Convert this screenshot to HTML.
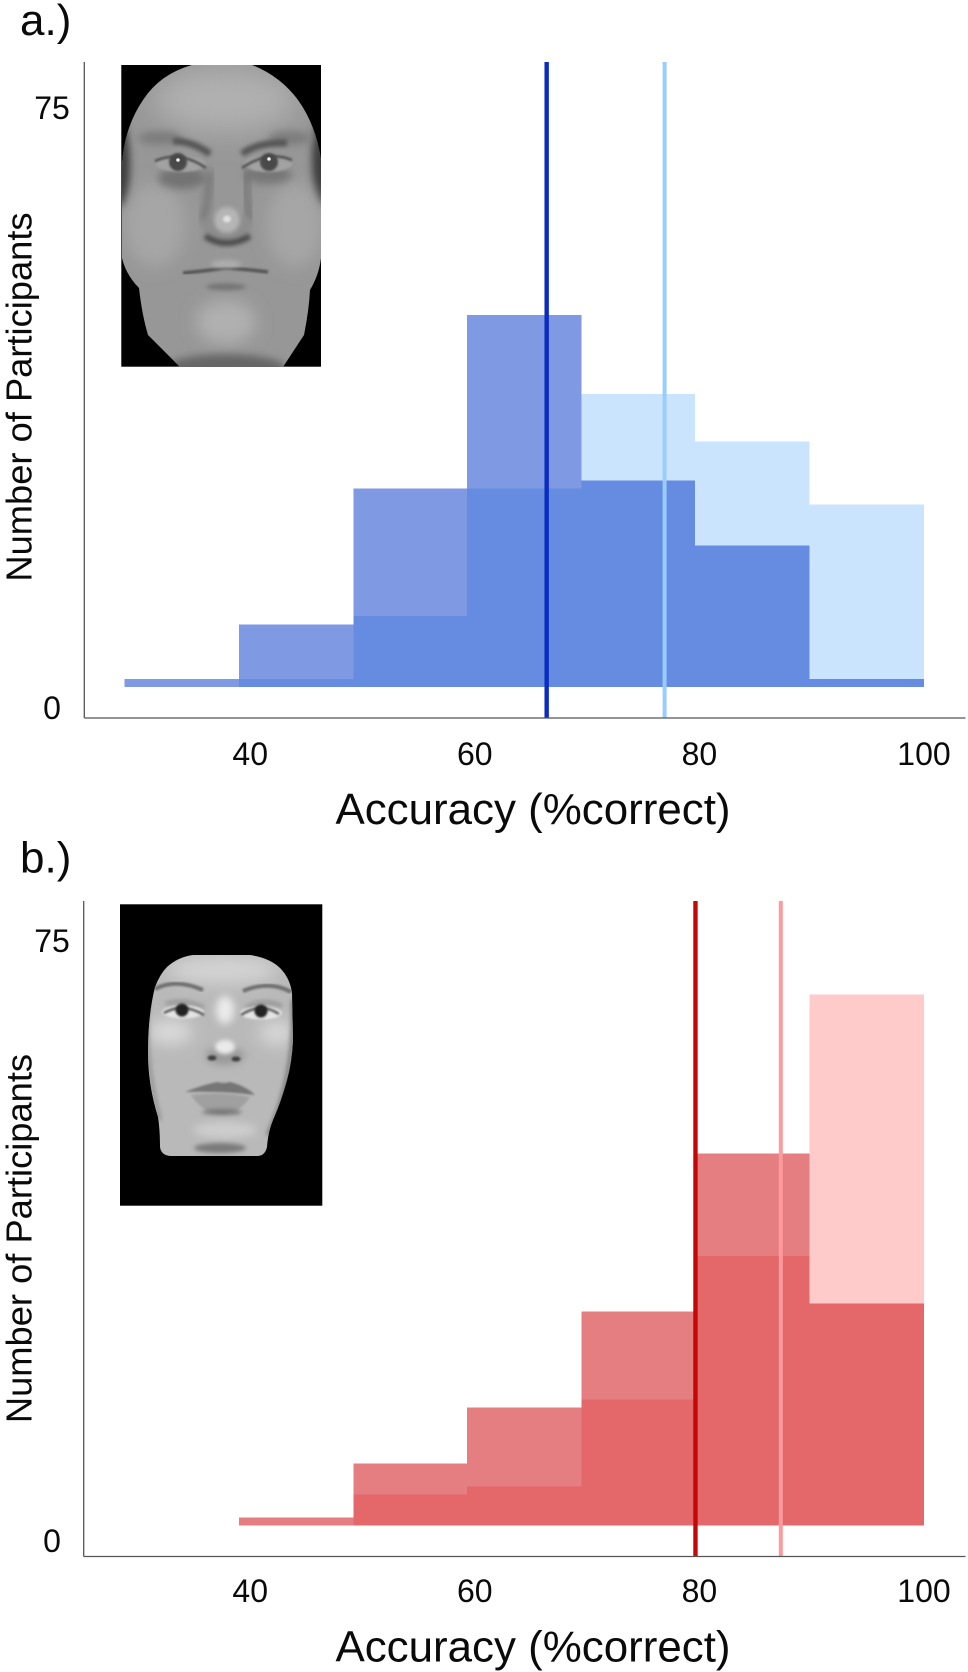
<!DOCTYPE html>
<html lang="en">
<head>
<meta charset="utf-8">
<title>Accuracy histograms</title>
<style>
html,body{margin:0;padding:0;background:#fff;}
svg{display:block;}
text{font-family:"Liberation Sans",Arial,sans-serif;fill:#0a0a0a;}
</style>
</head>
<body>
<svg id="figure" width="968" height="1672" viewBox="0 0 968 1672" xmlns="http://www.w3.org/2000/svg">
<defs>
<filter id="b1" x="-30%" y="-30%" width="160%" height="160%"><feGaussianBlur stdDeviation="1"/></filter>
<filter id="b2" x="-40%" y="-80%" width="180%" height="260%"><feGaussianBlur stdDeviation="2"/></filter>
<filter id="b4" x="-60%" y="-80%" width="220%" height="260%"><feGaussianBlur stdDeviation="4"/></filter>
<filter id="b8" x="-80%" y="-80%" width="260%" height="260%"><feGaussianBlur stdDeviation="8"/></filter>
<filter id="b14" x="-100%" y="-100%" width="300%" height="300%"><feGaussianBlur stdDeviation="14"/></filter>
<clipPath id="clipA"><path d="M192 65 Q160 74 143 100 Q124 128 122 165 L122 258 Q126 275 139 288 Q142 315 148 335 L180 367 L283 367 L304 335 Q309 310 310 290 Q319 275 321 258 L321 160 Q316 125 298 100 Q280 76 252 65 Z"/></clipPath>
<clipPath id="clipB"><path d="M193 955 L250 955 Q270 958 280 968 Q290 978 292 993 L293 1040 Q292 1062 287 1080 Q281 1102 273 1120 Q268 1132 267 1147 Q265 1156 257 1156 L170 1156 Q161 1155 160 1147 Q160 1130 158 1117 Q148 1085 148 1053 Q148 1015 155 987 Q160 974 167 967 Q178 957 193 955 Z"/></clipPath>
</defs>

<g>
<rect x="121.3" y="65" width="199.7" height="301.7" fill="#000"/>
<g clip-path="url(#clipA)">
<rect x="115" y="60" width="210" height="310" fill="#979797"/>
<ellipse cx="225" cy="100" rx="72" ry="32" fill="#b0b0b0" filter="url(#b14)"/>
<ellipse cx="121" cy="165" rx="9" ry="42" fill="#3c3c3c" filter="url(#b4)"/>
<ellipse cx="323" cy="160" rx="11" ry="45" fill="#3c3c3c" filter="url(#b4)"/>
<ellipse cx="155" cy="225" rx="30" ry="42" fill="#a6a6a6" filter="url(#b8)"/>
<ellipse cx="295" cy="225" rx="28" ry="42" fill="#a6a6a6" filter="url(#b8)"/>
<ellipse cx="160" cy="138" rx="22" ry="7" fill="#7d7d7d" filter="url(#b4)"/>
<ellipse cx="290" cy="138" rx="22" ry="7" fill="#7d7d7d" filter="url(#b4)"/>
<path d="M173 141 Q192 141 210 154" fill="none" stroke="#555" stroke-width="7" filter="url(#b2)"/>
<path d="M242 154 Q258 142 287 143" fill="none" stroke="#555" stroke-width="7" filter="url(#b2)"/>
<ellipse cx="182" cy="178" rx="24" ry="11" fill="#737373" filter="url(#b4)"/>
<ellipse cx="268" cy="175" rx="24" ry="9" fill="#777" filter="url(#b4)"/>
<ellipse cx="181" cy="164" rx="25" ry="8" fill="#a2a2a2" filter="url(#b1)"/>
<ellipse cx="268" cy="164" rx="24" ry="8" fill="#a2a2a2" filter="url(#b1)"/>
<path d="M155 161 Q180 150 206 168" fill="none" stroke="#4a4a4a" stroke-width="2.4" filter="url(#b1)"/>
<path d="M242 168 Q268 150 292 160" fill="none" stroke="#4a4a4a" stroke-width="2.4" filter="url(#b1)"/>
<circle cx="178" cy="162" r="9" fill="#4a4a4a" filter="url(#b1)"/>
<circle cx="269" cy="162" r="9" fill="#4a4a4a" filter="url(#b1)"/>
<circle cx="178" cy="160" r="1.8" fill="#eee"/>
<circle cx="269" cy="159" r="1.8" fill="#eee"/>
<path d="M226 140 L226 205" stroke="#ababab" stroke-width="16" filter="url(#b4)"/>
<path d="M210 170 Q209 198 203 222" fill="none" stroke="#6f6f6f" stroke-width="6" filter="url(#b4)"/>
<path d="M246 170 Q246 198 250 222" fill="none" stroke="#6f6f6f" stroke-width="6" filter="url(#b4)"/>
<ellipse cx="227" cy="226" rx="25" ry="14" fill="#8d8d8d" filter="url(#b2)"/>
<path d="M205 236 Q226 250 250 236" fill="none" stroke="#484848" stroke-width="6" filter="url(#b2)"/>
<ellipse cx="227" cy="220" rx="13" ry="13" fill="#b5b5b5" filter="url(#b2)"/>
<ellipse cx="227" cy="219" rx="4" ry="3.5" fill="#e0e0e0" filter="url(#b1)"/>
<path d="M183 273 Q205 271 225 268 Q245 269 268 272" fill="none" stroke="#555" stroke-width="3.6" filter="url(#b1)"/>
<ellipse cx="226" cy="264" rx="15" ry="4" fill="#adadad" filter="url(#b2)"/>
<ellipse cx="226" cy="287" rx="20" ry="3.5" fill="#727272" filter="url(#b2)"/>
<ellipse cx="226" cy="322" rx="30" ry="22" fill="#b0b0b0" filter="url(#b8)"/>
<ellipse cx="226" cy="368" rx="60" ry="14" fill="#666" filter="url(#b4)"/>
</g>
</g>

<g>
<rect x="120" y="904.3" width="202.3" height="301.4" fill="#000"/>
<g clip-path="url(#clipB)">
<rect x="140" y="950" width="160" height="212" fill="#b9b9b9"/>
<ellipse cx="222" cy="970" rx="55" ry="14" fill="#d3d3d3" filter="url(#b8)"/>
<ellipse cx="170" cy="1032" rx="22" ry="12" fill="#dcdcdc" filter="url(#b8)"/>
<ellipse cx="277" cy="1033" rx="18" ry="12" fill="#d8d8d8" filter="url(#b8)"/>
<ellipse cx="225" cy="1010" rx="9" ry="14" fill="#ebebeb" filter="url(#b4)"/>
<ellipse cx="225" cy="1130" rx="32" ry="8" fill="#cdcdcd" filter="url(#b4)"/>
<path d="M148 1000 Q144 1060 160 1120" fill="none" stroke="#8a8a8a" stroke-width="3" filter="url(#b2)"/>
<path d="M293 1000 Q296 1075 268 1135" fill="none" stroke="#777" stroke-width="4" filter="url(#b2)"/>
<path d="M155 989 Q175 978 203 990" fill="none" stroke="#6e6e6e" stroke-width="4" filter="url(#b1)"/>
<path d="M243 991 Q270 980 291 992" fill="none" stroke="#6e6e6e" stroke-width="4" filter="url(#b1)"/>
<path d="M166 1004 Q185 998 204 1008" fill="none" stroke="#949494" stroke-width="4" filter="url(#b2)"/>
<path d="M246 1008 Q262 998 282 1006" fill="none" stroke="#949494" stroke-width="4" filter="url(#b2)"/>
<ellipse cx="183" cy="1012" rx="21" ry="6.5" fill="#e4e4e4" filter="url(#b1)"/>
<ellipse cx="261" cy="1013" rx="21" ry="6.5" fill="#e4e4e4" filter="url(#b1)"/>
<path d="M164 1013 Q183 1002 204 1015" fill="none" stroke="#444" stroke-width="2.2" filter="url(#b1)"/>
<path d="M241 1015 Q261 1002 279 1014" fill="none" stroke="#444" stroke-width="2.2" filter="url(#b1)"/>
<circle cx="182" cy="1010" r="6.5" fill="#222" filter="url(#b1)"/>
<circle cx="261" cy="1011" r="6.5" fill="#222" filter="url(#b1)"/>
<path d="M225 1022 L225 1040" stroke="#cfcfcf" stroke-width="10" filter="url(#b4)"/>
<ellipse cx="225" cy="1056" rx="20" ry="9" fill="#9a9a9a" filter="url(#b4)"/>
<ellipse cx="225" cy="1047" rx="10" ry="7" fill="#eaeaea" filter="url(#b2)"/>
<ellipse cx="212" cy="1058" rx="4.5" ry="2.5" fill="#3e3e3e" filter="url(#b1)"/>
<ellipse cx="236" cy="1059" rx="4.5" ry="2.5" fill="#3e3e3e" filter="url(#b1)"/>
<path d="M185 1092 Q205 1084 218 1082 Q222 1084 230 1082 Q246 1086 255 1095 Q222 1091 185 1092 Z" fill="#767676" filter="url(#b1)"/>
<path d="M191 1095 Q222 1091 250 1097 Q240 1113 222 1114 Q202 1113 191 1095 Z" fill="#a0a0a0" filter="url(#b1)"/>
<ellipse cx="222" cy="1112" rx="20" ry="3" fill="#777" filter="url(#b2)"/>
<ellipse cx="220" cy="1148" rx="26" ry="5" fill="#7a7a7a" filter="url(#b2)"/>
</g>
</g>

<text x="20" y="35" font-size="44">a.)</text>
<text x="20" y="872.5" font-size="44">b.)</text>
<g id="charts"></g>
</svg>

<script>
// Histogram data (bin edges in % correct, heights in participants)
var binEdges = [28.8, 39, 49.2, 59.3, 69.5, 79.6, 89.8, 100];
var panelADark = [1, 7.8, 24.8, 46.5, 25.8, 17.7, 1];
var panelALight = [0, 1, 8.9, 24.8, 36.6, 30.7, 22.8];
var panelBDark = [0, 1, 7.8, 14.8, 26.8, 46.5, 27.8];
var panelBLight = [0, 0, 3.9, 4.9, 15.8, 33.7, 66.4];
var panelAMeans = [66.4, 76.9];
var panelBMeans = [79.65, 87.25];
var xTickLabels = [40, 60, 80, 100];
var yTickLabels = [75, 0];

var NS = 'http://www.w3.org/2000/svg';
var root = document.getElementById('charts');

function make(tag, attrs, parent) {
  var el = document.createElementNS(NS, tag);
  for (var k in attrs) { el.setAttribute(k, attrs[k]); }
  parent.appendChild(el);
  return el;
}

function drawPanel(cfg) {
  var g = make('g', {}, root);
  
  

  function x(v) { return 924 - (100 - v) * 11.23; }
  function y(c) { return cfg.base - c * 8; }

  function bars(values, fill, opacity, seriesName) {
    values.forEach(function (v, i) {
      if (v <= 0) { return; }
      var r = make('rect', {
        x: x(binEdges[i]),
        y: y(v),
        width: x(binEdges[i + 1]) - x(binEdges[i]),
        height: y(0) - y(v),
        fill: fill,
        'fill-opacity': opacity,
        'shape-rendering': 'crispEdges'
      }, g);
      
      
    });
  }

  bars(cfg.light, cfg.lightFill, 1, 'light');
  bars(cfg.dark, cfg.darkFill, cfg.darkOpacity, 'dark');

  var lightMean = make('line', {
    x1: x(cfg.means[1]), x2: x(cfg.means[1]), y1: cfg.top, y2: cfg.axisY,
    stroke: cfg.lightLine, 'stroke-width': 4
  }, g);
  
  

  var darkMean = make('line', {
    x1: x(cfg.means[0]), x2: x(cfg.means[0]), y1: cfg.top, y2: cfg.axisY,
    stroke: cfg.darkLine, 'stroke-width': 4.4
  }, g);
  
  

  var yAxis = make('line', {
    x1: cfg.axisX, x2: cfg.axisX, y1: cfg.top, y2: cfg.axisY,
    stroke: '#555', 'stroke-width': 1.3
  }, g);
  
  

  var xAxis = make('line', {
    x1: cfg.axisX, x2: 965.5, y1: cfg.axisY, y2: cfg.axisY,
    stroke: '#555', 'stroke-width': 1.3
  }, g);
  
  

  xTickLabels.forEach(function (t) {
    var el = make('text', { x: x(t), y: cfg.axisY + cfg.xLabelGap, 'font-size': 32, 'text-anchor': 'middle' }, g);
    el.textContent = t;
    
    
  });

  yTickLabels.forEach(function (t) {
    var el = make('text', { x: 52, y: y(t) + cfg.yLabelOffset, 'font-size': 32, 'text-anchor': 'middle' }, g);
    el.textContent = t;
    
    
  });

  var xTitle = make('text', { x: 533, y: cfg.axisY + cfg.xTitleGap, 'font-size': 43.9, 'text-anchor': 'middle' }, g);
  xTitle.textContent = 'Accuracy (%correct)';
  
  

  var yTitle = make('text', {
    x: 0, y: 0, 'font-size': 36.3, 'text-anchor': 'middle',
    transform: 'translate(31.5 ' + cfg.yTitleMid + ') rotate(-90)'
  }, g);
  yTitle.textContent = 'Number of Participants';
  
  
}

drawPanel({
  key: 'panel-a', base: 687, top: 62, axisY: 718, axisX: 84.3,
  xLabelGap: 47, xTitleGap: 106,
  yLabelOffset: 32, yTitleMid: 397,
  dark: panelADark, light: panelALight, means: panelAMeans,
  lightFill: '#cbe4fd', darkFill: 'rgb(9,59,201)', darkOpacity: 0.52,
  lightLine: '#99ccff', darkLine: '#0a2dbf'
});
drawPanel({
  key: 'panel-b', base: 1525.7, top: 901, axisY: 1556.5, axisX: 83.7,
  xLabelGap: 45.5, xTitleGap: 105.2,
  yLabelOffset: 26.5, yTitleMid: 1238.5,
  dark: panelBDark, light: panelBLight, means: panelBMeans,
  lightFill: '#fecaca', darkFill: 'rgb(207,27,32)', darkOpacity: 0.566,
  lightLine: '#fe9a9c', darkLine: '#c40808'
});
</script>
</body>
</html>
